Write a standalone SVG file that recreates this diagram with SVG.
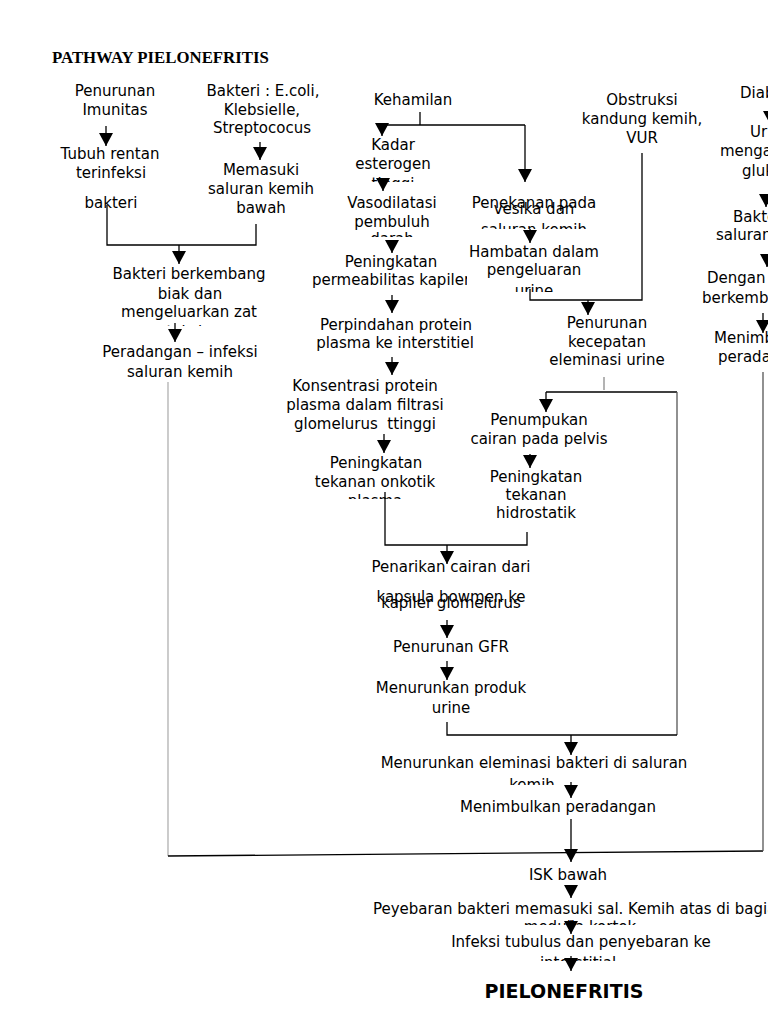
<svg xmlns="http://www.w3.org/2000/svg" width="768" height="1024" viewBox="0 0 768 1024">
<style>
.t{font-family:"DejaVu Sans","Noto Sans",sans-serif;font-size:15px;fill:#000;text-anchor:middle}
.s{text-anchor:start}
.ln{fill:none;stroke:#000;stroke-width:1.3}
.gr{fill:none;stroke:#8a8a8a;stroke-width:1.3}
.ar{fill:none;stroke:#000;stroke-width:1.3;marker-end:url(#ah)}
</style>
<defs>
<marker id="ah" markerUnits="userSpaceOnUse" markerWidth="14" markerHeight="14" refX="13" refY="7" orient="auto"><path d="M0,0 L13,7 L0,14 Z" fill="#000"/></marker>
<clipPath id="cv"><rect x="0" y="0" width="768" height="1024"/></clipPath>
<clipPath id="c1"><rect x="330" y="170" width="130" height="12"/></clipPath>
<clipPath id="c2"><rect x="100" y="318" width="180" height="8"/></clipPath>
<clipPath id="c3"><rect x="330" y="228" width="130" height="9"/></clipPath>
<clipPath id="c4"><rect x="470" y="222" width="130" height="7"/></clipPath>
<clipPath id="c5"><rect x="470" y="284" width="130" height="8"/></clipPath>
<clipPath id="c7"><rect x="300" y="270" width="167" height="25"/></clipPath>
<clipPath id="c8"><rect x="320" y="490" width="120" height="9"/></clipPath>
<clipPath id="c9"><rect x="480" y="776" width="120" height="9"/></clipPath>
<clipPath id="c10"><rect x="480" y="916" width="200" height="9"/></clipPath>
<clipPath id="c11"><rect x="500" y="952" width="160" height="9"/></clipPath>
</defs>
<rect x="0" y="0" width="768" height="1024" fill="#fff"/>

<g id="title"><text x="52" y="63" style="font-family:'Liberation Serif',serif;font-weight:bold;font-size:16.8px">PATHWAY PIELONEFRITIS</text></g>

<g id="connectors">
<line class="ar" x1="106" y1="126" x2="106" y2="146"/>
<line class="ar" x1="260" y1="142" x2="260" y2="160"/>
<polyline class="ln" points="107,205 107,245 256,245 256,224"/>
<line class="ar" x1="179" y1="245" x2="179" y2="264"/>
<line class="ar" x1="175" y1="323" x2="175" y2="342"/>
<line class="gr" x1="168" y1="382" x2="168" y2="856" style="stroke:#b0b0b0"/>
<line class="ln" x1="168" y1="856" x2="763" y2="851"/>
<line class="gr" x1="763" y1="372" x2="763" y2="851" style="stroke:#555"/>
<line class="ln" x1="420" y1="112" x2="420" y2="125"/>
<line class="ln" x1="382" y1="125" x2="525" y2="125"/>
<line class="ar" x1="382" y1="125" x2="382" y2="136"/>
<line class="ar" x1="525" y1="125" x2="525" y2="182"/>
<line class="ar" x1="383" y1="178" x2="383" y2="191"/>
<line class="ar" x1="392" y1="240" x2="392" y2="253"/>
<line class="ar" x1="530" y1="229" x2="530" y2="243"/>
<line class="ar" x1="392" y1="295" x2="392" y2="313"/>
<line class="ar" x1="392" y1="357" x2="392" y2="375"/>
<line class="ar" x1="384" y1="434" x2="384" y2="453"/>
<polyline class="ln" points="385,492 385,545 527,545 527,532"/>
<line class="ar" x1="447" y1="545" x2="447" y2="564"/>
<line class="ar" x1="530" y1="454" x2="530" y2="468"/>
<polyline class="ln" points="530,289 530,300 642,300 642,153"/>
<line class="ar" x1="588" y1="300" x2="588" y2="315"/>
<line class="gr" x1="604" y1="377" x2="604" y2="390"/>
<polyline class="ln" points="546,392 677,392"/>
<polyline class="gr" points="677,392 677,735" style="stroke:#555"/>
<polyline class="ln" points="677,735 447,735 447,722"/>
<line class="ar" x1="546" y1="392" x2="546" y2="412"/>
<line class="ar" x1="571" y1="735" x2="571" y2="755"/>
<line class="ar" x1="447" y1="620" x2="447" y2="638"/>
<line class="ar" x1="447" y1="661" x2="447" y2="680"/>
<line class="ar" x1="571" y1="782" x2="571" y2="798"/>
<line class="ar" x1="571" y1="819" x2="571" y2="862"/>
<line class="ar" x1="571" y1="885" x2="571" y2="898"/>
<line class="ar" x1="571" y1="920" x2="571" y2="934"/>
<line class="ar" x1="571" y1="956" x2="571" y2="971"/>
<g clip-path="url(#cv)">
<line class="ar" x1="770" y1="110" x2="770" y2="124"/>
<line class="ar" x1="766" y1="195" x2="766" y2="207"/>
<line class="ar" x1="767" y1="255" x2="767" y2="267"/>
<line class="ar" x1="763" y1="313" x2="763" y2="333"/>
</g>
</g>

<g id="n-penurunan-imunitas"><text class="t" x="115" y="96">Penurunan</text><text class="t" x="115" y="115">Imunitas</text></g>
<g id="n-tubuh-rentan"><text class="t" x="110" y="159">Tubuh rentan</text><text class="t" x="111" y="178">terinfeksi</text><text class="t" x="111" y="208">bakteri</text></g>
<g id="n-bakteri-ecoli"><text class="t" x="263" y="96">Bakteri : E.coli,</text><text class="t" x="262" y="115">Klebsielle,</text><text class="t" x="262" y="133">Streptococus</text></g>
<g id="n-memasuki"><text class="t" x="261" y="175">Memasuki</text><text class="t" x="261" y="194">saluran kemih</text><text class="t" x="261" y="213">bawah</text></g>
<g id="n-bakteri-berkembang"><text class="t" x="189" y="279">Bakteri berkembang</text><text class="t" x="190" y="299">biak dan</text><text class="t" x="189" y="317">mengeluarkan zat</text><text class="t" x="189" y="337" clip-path="url(#c2)">toksin</text></g>
<g id="n-peradangan-isk"><text class="t" x="180" y="357">Peradangan – infeksi</text><text class="t" x="180" y="377">saluran kemih</text></g>
<g id="n-kehamilan"><text class="t" x="413" y="105">Kehamilan</text></g>
<g id="n-kadar-esterogen"><text class="t" x="393" y="150">Kadar</text><text class="t" x="393" y="169">esterogen</text><text class="t" x="393" y="189" clip-path="url(#c1)">tinggi</text></g>
<g id="n-vasodilatasi"><text class="t" x="392" y="208">Vasodilatasi</text><text class="t" x="392" y="227">pembuluh</text><text class="t" x="392" y="244" clip-path="url(#c3)">darah</text></g>
<g id="n-permeabilitas"><text class="t" x="391" y="267">Peningkatan</text><text class="t" x="391" y="285" clip-path="url(#c7)">permeabilitas kapiler</text></g>
<g id="n-perpindahan"><text class="t" x="396" y="330">Perpindahan protein</text><text class="t" x="395" y="348">plasma ke interstitiel</text></g>
<g id="n-konsentrasi"><text class="t" x="365" y="391">Konsentrasi protein</text><text class="t" x="365" y="410">plasma dalam filtrasi</text><text class="t" x="365" y="429" style="white-space:pre">glomelurus  ttinggi</text></g>
<g id="n-onkotik"><text class="t" x="376" y="468">Peningkatan</text><text class="t" x="375" y="487">tekanan onkotik</text><text class="t" x="375" y="506" clip-path="url(#c8)">plasma</text></g>
<g id="n-penekanan"><text class="t" x="534" y="208">Penekanan pada</text><text class="t" x="534" y="214">vesika dan</text><text class="t" x="534" y="235" clip-path="url(#c4)">saluran kemih</text></g>
<g id="n-hambatan"><text class="t" x="534" y="257">Hambatan dalam</text><text class="t" x="534" y="275">pengeluaran</text><text class="t" x="534" y="296" clip-path="url(#c5)">urine</text></g>
<g id="n-obstruksi"><text class="t" x="642" y="105">Obstruksi</text><text class="t" x="642" y="124">kandung kemih,</text><text class="t" x="642" y="143">VUR</text></g>
<g id="n-penurunan-kecepatan"><text class="t" x="607" y="328">Penurunan</text><text class="t" x="607" y="347">kecepatan</text><text class="t" x="607" y="365">eleminasi urine</text></g>
<g id="n-penumpukan"><text class="t" x="539" y="425">Penumpukan</text><text class="t" x="539" y="444">cairan pada pelvis</text></g>
<g id="n-hidrostatik"><text class="t" x="536" y="482">Peningkatan</text><text class="t" x="536" y="500">tekanan</text><text class="t" x="536" y="518">hidrostatik</text></g>
<g id="n-penarikan"><text class="t" x="451" y="572">Penarikan cairan dari</text><text class="t" x="451" y="602">kapsula bowmen ke</text><text class="t" x="451" y="608">kapiler glomelurus</text></g>
<g id="n-gfr"><text class="t" x="451" y="652">Penurunan GFR</text></g>
<g id="n-produk-urine"><text class="t" x="451" y="693">Menurunkan produk</text><text class="t" x="451" y="713">urine</text></g>
<g id="n-eleminasi-bakteri"><text class="t" x="534" y="768">Menurunkan eleminasi bakteri di saluran</text><text class="t" x="532" y="790" clip-path="url(#c9)">kemih</text></g>
<g id="n-menimbulkan"><text class="t" x="558" y="812">Menimbulkan peradangan</text></g>
<g id="n-isk-bawah"><text class="t" x="568" y="880">ISK bawah</text></g>
<g id="n-penyebaran" clip-path="url(#cv)"><text class="t s" x="373" y="914">Peyebaran bakteri memasuki sal. Kemih atas di bagian</text><text class="t" x="580" y="932" clip-path="url(#c10)">medulla kortek</text></g>
<g id="n-infeksi-tubulus"><text class="t" x="581" y="947">Infeksi tubulus dan penyebaran ke</text><text class="t" x="578" y="968" clip-path="url(#c11)">interstitial</text></g>
<g id="n-pielonefritis"><text class="t" x="564" y="998" style="font-weight:bold;font-size:19px">PIELONEFRITIS</text></g>
<g id="n-right-column" clip-path="url(#cv)">
<text class="t s" x="740" y="98">Diabetes</text>
<text class="t s" x="750" y="137">Urine</text>
<text class="t s" x="720" y="156">mengandung</text>
<text class="t s" x="742" y="176">glukosa</text>
<text class="t s" x="733" y="222">Bakteri</text>
<text class="t s" x="716" y="240">saluran</text>
<text class="t s" x="707" y="283">Dengan</text>
<text class="t s" x="702" y="303">berkembang</text>
<text class="t s" x="714" y="343">Menimbulkan</text>
<text class="t s" x="718" y="362">peradangan</text>
</g>
</svg>
